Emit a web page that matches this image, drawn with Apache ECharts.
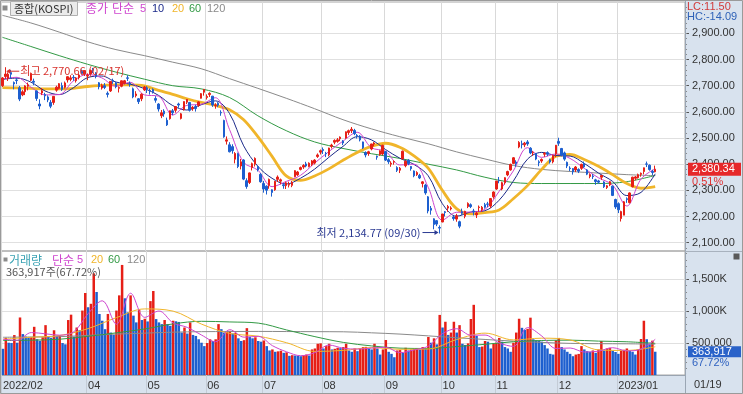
<!DOCTYPE html>
<html><head><meta charset="utf-8">
<script src="https://cdn.jsdelivr.net/npm/echarts@6/dist/echarts.min.js"></script>
<style>html,body{margin:0;padding:0;background:#fff}#c{width:743px;height:394px}</style>
</head><body><div id="c"></div>
<script>
// ---------------- DATA ----------------
const tradingDays = [
  ['2022-02',[16,17,18,21,22,23,24,25,28]],
  ['2022-03',[2,3,4,7,8,10,11,14,15,16,17,18,21,22,23,24,25,28,29,30,31]],
  ['2022-04',[1,4,5,6,7,8,11,12,13,14,15,18,19,20,21,22,25,26,27,28,29]],
  ['2022-05',[2,3,4,6,9,10,11,12,13,16,17,18,19,20,23,24,25,26,27,30,31]],
  ['2022-06',[2,3,7,8,9,10,13,14,15,16,17,20,21,22,23,24,27,28,29,30]],
  ['2022-07',[1,4,5,6,7,8,11,12,13,14,15,18,19,20,21,22,25,26,27,28,29]],
  ['2022-08',[1,2,3,4,5,8,9,10,11,12,16,17,18,19,22,23,24,25,26,29,30,31]],
  ['2022-09',[1,2,5,6,7,8,13,14,15,16,19,20,21,22,23,26,27,28,29,30]],
  ['2022-10',[4,5,6,7,11,12,13,14,17,18,19,20,21,24,25,26,27,28,31]],
  ['2022-11',[1,2,3,4,7,8,9,10,11,14,15,16,17,18,21,22,23,24,25,28,29,30]],
  ['2022-12',[1,2,5,6,7,8,9,12,13,14,15,16,19,20,21,22,23,26,27,28,29]],
  ['2023-01',[2,3,4,5,6,9,10,11,12,13,16,17,18,19]]
];
// empty future slots on the right of the chart
const padDays = [['2023-01',[20,25,26,27,30,31]],['2023-02',[1,2,3,6]]];

const tickDates  = ['2022-02-16','2022-04-01','2022-05-02','2022-06-02','2022-07-01','2022-08-01','2022-09-01','2022-10-04','2022-11-01','2022-12-01','2023-01-02'];
const tickLabels = ['2022/02','04','05','06','07','08','09','10','11','12','2023/01'];
const priceTicks = [2100,2200,2300,2400,2500,2600,2700,2800,2900];
const volTicks = [500,1000,1500];

// [open, close, low, high]
const candles = [
[2700,2729.68,2695,2733],[2735,2744.52,2726,2770.66],[2728,2744.09,2718,2751],[2750,2743.80,2727,2760],[2712,2706.79,2686,2716],
[2722,2719.53,2706,2730],[2692,2648.80,2641,2699],[2665,2676.76,2660,2683],[2677,2699.18,2664,2702],
[2698,2703.52,2682,2712],[2721,2747.08,2718,2750],[2717,2713.43,2702,2727],[2680,2651.31,2642,2682],[2630,2622.40,2610,2648],
[2672,2680.32,2664,2691],[2666,2661.28,2645,2673],[2657,2645.65,2637,2663],[2636,2621.53,2614,2645],[2636,2659.23,2627,2660],
[2683,2694.51,2677,2700],[2690,2707.62,2686,2710],[2700,2686.05,2680,2712],[2694,2710.62,2689,2716],[2722,2734.43,2712,2736],
[2724,2729.98,2717,2740],[2732,2729.66,2719,2741],[2719,2729.56,2712,2733],[2731,2741.07,2724,2746],[2755,2746.74,2743,2762],
[2745,2757.65,2737,2759],
[2737,2739.85,2721,2747],[2745,2757.90,2742,2762],[2762,2759.20,2748,2768],[2749,2735.03,2728,2752],[2711,2695.86,2686,2714],
[2691,2700.39,2685,2708],[2700,2693.10,2687,2710],[2671,2666.76,2655,2678],[2680,2716.49,2676,2717],[2720,2716.71,2707,2727],
[2710,2696.06,2690,2715],[2690,2693.21,2674,2697],[2698,2718.69,2694,2720],[2709,2718.89,2705,2722],[2730,2728.21,2718,2740],
[2710,2704.71,2696,2716],[2688,2657.13,2652,2693],[2662,2668.31,2655,2679],[2650,2639.06,2630,2653],[2650,2667.49,2641,2671],
[2684,2695.05,2680,2699],
[2692,2687.45,2672,2698],[2682,2680.46,2666,2689],[2685,2677.57,2670,2690],[2651,2644.51,2635,2660],[2630,2610.81,2601,2633],
[2585,2596.56,2576,2607],[2603,2592.27,2581,2610],[2568,2550.08,2546,2578],[2574,2604.24,2570,2605],[2604,2596.58,2587,2611],
[2606,2620.44,2597,2622],[2630,2625.98,2616,2635],[2575,2592.34,2571,2596],[2608,2639.29,2605,2640],[2637,2647.38,2630,2649],
[2636,2605.87,2601,2638],[2612,2617.22,2604,2622],[2620,2612.45,2601,2627],[2625,2638.05,2619,2641],[2652,2669.66,2651,2672],
[2675,2685.90,2662,2686],
[2655,2658.99,2647,2667],[2666,2670.65,2657,2675],[2660,2626.15,2619,2661],[2624,2626.34,2612,2633],[2633,2625.44,2618,2637],
[2598,2595.87,2585,2606],[2567,2504.51,2501,2570],[2488,2492.97,2475,2506],[2474,2447.38,2445,2484],[2467,2451.41,2440,2476],
[2419,2440.93,2403,2446],[2440,2391.03,2385,2444],[2393,2408.93,2380,2420],[2416,2342.81,2339,2419],[2337,2314.32,2306,2346],
[2330,2366.60,2324,2368],[2387,2401.92,2376,2406],[2400,2422.09,2391,2426],[2391,2377.99,2372,2394],[2361,2332.64,2329,2366],
[2326,2305.42,2291,2336],[2316,2300.34,2284,2319],[2319,2341.78,2306,2345],[2302,2292.01,2276,2304],[2302,2334.27,2298,2336],
[2342,2350.61,2332,2357],[2335,2340.27,2323,2345],[2321,2317.76,2306,2327],[2318,2328.61,2305,2333],[2320,2322.32,2311,2333],
[2319,2330.98,2312,2336],[2352,2375.25,2350,2377],[2359,2370.12,2355,2374],[2380,2386.85,2376,2391],[2389,2395.21,2382,2400],
[2401,2393.14,2388,2409],[2391,2403.69,2388,2407],[2399,2412.40,2393,2416],[2404,2415.53,2399,2419],[2429,2435.27,2424,2441],
[2446,2451.50,2437,2456],
[2456,2452.25,2439,2464],[2441,2439.62,2427,2447],[2436,2461.45,2430,2463],[2468,2473.11,2460,2478],[2484,2490.80,2476,2495],
[2487,2493.10,2482,2500],[2497,2503.46,2488,2506],[2488,2480.88,2473,2492],[2500,2523.78,2497,2525],[2521,2527.94,2512,2532],
[2528,2533.52,2519,2542],[2529,2516.47,2511,2535],[2510,2508.05,2498,2515],[2507,2492.69,2487,2511],[2485,2462.50,2458,2486],
[2444,2435.34,2426,2449],[2441,2447.45,2432,2451],[2458,2477.26,2453,2478],[2477,2481.03,2468,2485],[2430,2426.89,2417,2433],
[2437,2450.93,2432,2453],[2439,2472.05,2434,2474],
[2448,2415.61,2412,2451],[2417,2409.41,2401,2423],[2400,2403.68,2390,2411],[2408,2410.02,2398,2414],[2387,2376.46,2370,2392],
[2377,2384.28,2366,2389],[2420,2449.54,2419,2452],[2394,2411.42,2388,2414],[2415,2401.83,2396,2419],[2391,2382.78,2375,2393],
[2374,2355.66,2350,2376],[2360,2367.85,2355,2373],[2357,2347.21,2343,2363],[2326,2332.31,2311,2335],[2320,2290.00,2283,2325],
[2275,2220.94,2212,2278],[2231,2223.86,2207,2240],[2191,2169.29,2151,2193],[2184,2170.93,2163,2186],[2158,2155.49,2134.77,2166],
[2179,2209.38,2178,2210],[2218,2215.22,2200,2221],[2232,2237.86,2218,2244],[2229,2232.84,2223,2239],[2198,2192.07,2184,2203],
[2190,2202.47,2180,2210],[2180,2162.87,2155,2184],[2218,2212.55,2206,2230],[2201,2219.71,2193,2222],[2238,2249.95,2232,2254],
[2245,2237.64,2232,2250],[2221,2218.09,2204,2229],[2206,2213.12,2194,2218],[2234,2236.16,2219,2242],[2226,2235.07,2218,2240],
[2245,2235.06,2230,2252],[2248,2246.59,2236,2256],[2240,2268.40,2232,2270],[2275,2293.61,2268,2296],
[2305,2335.22,2302,2336],[2338,2336.82,2327,2351],[2305,2329.17,2300,2333],[2330,2348.22,2322,2350],[2359,2371.79,2354,2375],
[2378,2399.04,2375,2402],[2403,2424.41,2400,2427],[2408,2402.45,2390,2415],[2466,2483.16,2461,2488],[2478,2474.65,2460,2490],
[2474,2480.33,2465,2485],[2485,2477.45,2470,2492],[2461,2442.90,2438,2465],[2443,2444.48,2432,2450],[2440,2419.50,2415,2443],
[2409,2405.27,2392,2415],[2412,2417.98,2405,2422],[2438,2441.33,2428,2446],[2444,2437.86,2431,2449],[2417,2408.27,2402,2421],
[2409,2433.39,2403,2436],[2440,2472.53,2427,2473],
[2487,2479.84,2470,2501],[2460,2434.33,2430,2462],[2443,2419.32,2413,2448],[2407,2393.16,2385,2410],[2385,2382.81,2374,2392],
[2383,2371.08,2360,2385],[2378,2389.04,2370,2393],[2380,2373.36,2366,2384],[2384,2399.25,2378,2402],[2402,2389.58,2386,2410],
[2378,2361.82,2358,2381],[2353,2360.32,2346,2365],[2355,2352.17,2343,2362],[2340,2333.42,2321,2344],[2336,2331.18,2325,2340],
[2350,2356.73,2340,2358],[2332,2313.69,2309,2335],[2311,2317.14,2305,2320],[2321,2332.79,2316,2336],[2316,2280.45,2278,2318],
[2265,2236.40,2229,2268],
[2249,2225.67,2213,2254],[2192,2218.68,2180.67,2222],[2205,2255.98,2205,2259],[2268,2264.65,2252,2273],[2253,2289.97,2250,2292],
[2314,2350.19,2311,2352],[2346,2351.31,2338,2355],[2348,2359.88,2345,2364],[2361,2365.10,2352,2368],[2372,2386.09,2361,2387],
[2401,2399.86,2389,2410],[2396,2379.39,2375,2399],[2373,2368.32,2358,2378],[2371,2380.34,2368.84,2394.43]
];

// volume, thousand shares
const volumes = [
410,580,505,500,625,505,900,640,600,
590,592,754,560,535,590,780,600,580,700,615,618,500,480,860,944,600,743,700,1008,1283,
1060,1114,1590,1299,955,849,717,955,664,627,1008,1246,1722,1200,981,1246,929,823,1018,860,880,
838,1156,1314,875,823,796,860,796,770,849,840,830,664,743,648,823,627,611,559,505,452,
500,559,532,559,796,717,664,680,690,650,660,574,532,545,733,596,574,590,532,521,
540,452,384,400,363,370,380,347,355,300,310,305,300,294,310,320,305,400,415,489,495,
415,452,489,400,410,426,420,437,489,384,363,415,373,415,437,440,415,400,489,415,320,400,
548,363,331,278,384,390,347,426,384,400,410,415,400,437,415,595,505,574,479,940,
743,833,627,664,833,664,780,489,470,495,876,1098,611,437,445,532,521,415,489,
505,580,521,437,415,363,505,664,880,738,706,722,897,559,543,532,521,468,415,331,320,543,
580,437,400,363,331,294,320,330,452,400,373,363,384,347,400,532,384,415,425,380,360,
331,384,395,415,384,363,320,400,563,849,560,480,537.385,363.917
];

const fastStep = 5, slowStep = 10;
const priceMa5 = [2726,2732,2695,2665,2666,2718,2743,2730,2698,2713,2665,2660,2588,2625,2629,2654,2533,2407,2377,2314,2334,2357,2404,2448,2488,2522,2463,2449,2397,2400,2312,2186,2216,2217,2227,2296,2374,2463,2426,2439,2422,2384,2348,2320,2240,2343,2383];
const priceMa10 = [2724,2729,2714,2680,2666,2692,2731,2737,2714,2706,2689,2663,2624,2607,2627,2642,2594,2470,2392,2346,2324,2346,2381,2426,2468,2505,2493,2456,2423,2399,2356,2249,2201,2217,2222,2262,2335,2419,2445,2433,2431,2403,2366,2334,2280,2292,2363];
const priceMa20 = [2693,2692,2690,2688,2688,2690,2697,2701,2703,2703,2699,2682,2667,2650,2636,2625,2608,2570,2505,2430,2355,2338,2355,2382,2415,2445,2468,2480,2465,2432,2385,2300,2230,2210,2215,2225,2268,2318,2380,2430,2437,2418,2392,2360,2326,2308,2314];
const priceMa60 = [2885,2850,2815,2782,2752,2725,2700,2688,2655,2585,2528,2485,2460,2440,2422,2400,2378,2350,2330,2326,2326,2326,2333,2357];
const priceMa120 = [2969,2940,2905,2868,2838,2815,2790,2765,2727,2690,2652,2612,2570,2535,2505,2478,2447,2420,2395,2380,2372,2366,2360,2356];
const volMa5 = [560,543,664,644,623,677,959,1161,794,1279,902,1001,814,745,625,520,709,592,605,459,363,302,350,468,419,405,421,434,349,393,452,648,724,622,625,502,448,742,610,415,422,359,373,427,377,406,558];
const volMa20 = [560,590,618,726,898,1034,999,796,650,607,505,369,385,428,402,407,555,655,549,576,548,393,384,442];
const volMa60 = [540,545,560,605,660,720,800,840,830,812,705,600,510,455,420,415,445,480,520,540,545,530,520,495];
const volMa120 = [590,595,600,620,640,655,670,678,680,682,680,678,676,660,640,612,583,556,530,510,495,490,488,483];

// ---------------- BUILD ----------------
const UP = '#e61f17', DOWN = '#1d5fcf';
const C_MA5 = '#cf45cf', C_MA10 = '#1c2a8a', C_MA20 = '#f0b52a', C_MA60 = '#339a45', C_MA120 = '#8a8a8a';
const KR = '"Noto Sans CJK KR", sans-serif';
const NUM = '"Liberation Sans", Arial, sans-serif';

const dates = [];
tradingDays.forEach(([m, ds]) => ds.forEach(d => dates.push(m + '-' + String(d).padStart(2, '0'))));
const cats = dates.slice();
padDays.forEach(([m, ds]) => ds.forEach(d => cats.push(m + '-' + String(d).padStart(2, '0'))));
const tickIdx = new Set(tickDates.map(d => cats.indexOf(d)));
const isTick = (i) => tickIdx.has(i);

const fmt2 = v => v.toLocaleString('en-US', {minimumFractionDigits: 2, maximumFractionDigits: 2});
const pts = (arr, step) => arr.map((v, k) => [k * step, v]);

const minorPrice = []; for (let v = 2080; v <= 3000; v += 20) minorPrice.push(v);
const minorVol = []; for (let v = 100; v <= 1900; v += 100) minorVol.push(v);

const volData = volumes.map((v, i) => ({value: v, itemStyle: {color: (i > 0 && v > volumes[i - 1]) ? UP : DOWN}}));

function maLine(data, color, width, xi, yi) {
  return {type: 'line', xAxisIndex: xi, yAxisIndex: yi, data: data, showSymbol: false, symbol: 'none',
    smooth: 0.35, silent: true, z: 4, lineStyle: {color: color, width: width}};
}

const chart = echarts.init(document.getElementById('c'), null, {renderer: 'canvas'});
const gridLeft = 1, gridRight = 58;
const option = {
  animation: false,
  backgroundColor: '#ffffff',
  grid: [
    {left: gridLeft, right: gridRight, top: 2, height: 249, show: true, borderColor: '#a8a8a8', borderWidth: 1, backgroundColor: 'transparent'},
    {left: gridLeft, right: gridRight, top: 251, height: 124, show: true, borderColor: '#a8a8a8', borderWidth: 1, backgroundColor: 'transparent'}
  ],
  xAxis: [
    {type: 'category', gridIndex: 0, data: cats, boundaryGap: true,
      axisLine: {show: false}, axisTick: {show: false}, axisLabel: {show: false},
      splitLine: {show: true, interval: isTick, lineStyle: {color: '#d9d9d9', width: 1}}},
    {type: 'category', gridIndex: 1, data: cats, boundaryGap: true,
      axisLine: {show: true, lineStyle: {color: '#9aa4b0'}},
      axisTick: {show: true, interval: isTick, length: 19, lineStyle: {color: '#c4ccd6'}},
      axisLabel: {show: true, interval: isTick, align: 'left', margin: 5, fontSize: 11, color: '#333', fontFamily: NUM,
        formatter: (v) => { const k = tickDates.indexOf(v); return k >= 0 ? tickLabels[k] : ''; }},
      splitLine: {show: true, interval: isTick, lineStyle: {color: '#d9d9d9', width: 1}}}
  ],
  yAxis: [
    {type: 'value', gridIndex: 0, position: 'right', min: 2068, max: 3020, scale: true,
      axisLine: {show: false},
      axisTick: {show: true, customValues: priceTicks, length: 4, lineStyle: {color: '#555'}},
      axisLabel: {show: true, customValues: priceTicks, margin: 7, fontSize: 11, color: '#333', fontFamily: NUM, formatter: v => fmt2(v)},
      splitLine: {show: true, lineStyle: {color: '#e0e0e0'}}},
    {type: 'value', gridIndex: 1, position: 'right', min: 0, max: 1940,
      axisLine: {show: false},
      axisTick: {show: true, customValues: volTicks, length: 4, lineStyle: {color: '#555'}},
      axisLabel: {show: true, customValues: volTicks, margin: 7, fontSize: 11, color: '#333', fontFamily: NUM,
        formatter: v => { const raw = v * 1000; return raw >= 1e6 ? (v).toLocaleString('en-US') + 'K' : raw.toLocaleString('en-US'); }},
      splitLine: {show: true, lineStyle: {color: '#e0e0e0'}}},
    {type: 'value', gridIndex: 0, position: 'right', min: 2068, max: 3020,
      axisLine: {show: false}, axisLabel: {show: false}, splitLine: {show: false},
      axisTick: {show: true, customValues: minorPrice, length: 2, lineStyle: {color: '#8a8a8a'}}},
    {type: 'value', gridIndex: 1, position: 'right', min: 0, max: 1940,
      axisLine: {show: false}, axisLabel: {show: false}, splitLine: {show: false},
      axisTick: {show: true, customValues: minorVol, length: 2, lineStyle: {color: '#8a8a8a'}}}
  ],
  series: [
    maLine(pts(priceMa120, slowStep), C_MA120, 1, 0, 0),
    maLine(pts(priceMa60, slowStep), C_MA60, 1, 0, 0),
    maLine(pts(priceMa20, fastStep), C_MA20, 2.8, 0, 0),
    {type: 'candlestick', xAxisIndex: 0, yAxisIndex: 0, data: candles, barWidth: 2, z: 5, silent: true,
      itemStyle: {color: UP, color0: DOWN, borderColor: UP, borderColor0: DOWN, borderWidth: 1}},
    maLine(pts(priceMa10, fastStep), C_MA10, 1, 0, 0),
    maLine(pts(priceMa5, fastStep), C_MA5, 1, 0, 0),
    {type: 'bar', xAxisIndex: 1, yAxisIndex: 1, data: volData, barWidth: '88%', z: 2, silent: true},
    maLine(pts(volMa120, slowStep), C_MA120, 1, 1, 1),
    maLine(pts(volMa60, slowStep), C_MA60, 1, 1, 1),
    maLine(pts(volMa20, slowStep), C_MA20, 1, 1, 1),
    maLine(pts(volMa5, fastStep), C_MA5, 1, 1, 1)
  ]
};
chart.setOption(option);

// ---------------- ANNOTATIONS ----------------
const n = candles.length;
let hiI = 0, loI = 0;
candles.forEach((c, i) => { if (c[3] > candles[hiI][3]) hiI = i; if (c[2] < candles[loI][2]) loI = i; });
const last = candles[n - 1], prev = candles[n - 2];
const pctTxt = ((last[1] - prev[1]) / prev[1] * 100).toFixed(2) + '%';
const lcTxt = 'LC:' + (last[1] - last[2]).toFixed(2);
const hcTxt = 'HC:' + (last[1] - last[3]).toFixed(2);
const vLast = volumes[n - 1], vPrev = volumes[n - 2];
const vTxt = Math.round(vLast * 1000).toLocaleString('en-US');
const vPct = (vLast / vPrev * 100).toFixed(2) + '%';
const mmdd = d => d.slice(5, 7) + '/' + d.slice(8, 10);

const pH = chart.convertToPixel({xAxisIndex: 0, yAxisIndex: 0}, [hiI, candles[hiI][3]]);
const pL = chart.convertToPixel({xAxisIndex: 0, yAxisIndex: 0}, [loI, candles[loI][2]]);
const pC = chart.convertToPixel({xAxisIndex: 0, yAxisIndex: 0}, [n - 1, last[1]]);
const pV = chart.convertToPixel({xAxisIndex: 1, yAxisIndex: 1}, [n - 1, vLast]);

const T = (x, y, text, fill, font, align) => ({type: 'text', x: x, y: y, z: 61,
  style: {text: text, fill: fill, font: font, textVerticalAlign: 'middle', textAlign: align || 'left'}});
const fK = '11px ' + KR, fK12 = '12px ' + KR, fN = '11px ' + NUM;
const redA = '#d8322d', blueA = '#2b3a92';
const yA = pH[1] + 4, yB = pL[1] - 1;

const g = [
  {type: 'rect', z: -10, shape: {x: 685, y: 0, width: 58, height: 394}, style: {fill: '#d8e2ee'}},
  {type: 'rect', z: -10, shape: {x: 0, y: 375, width: 685, height: 19}, style: {fill: '#d8e2ee'}},
  {type: 'line', z: 50, shape: {x1: 685.5, y1: 0, x2: 685.5, y2: 394}, style: {stroke: '#9aa6b4', lineWidth: 1}},
  {type: 'line', z: 50, shape: {x1: 685, y1: 251.5, x2: 743, y2: 251.5}, style: {stroke: '#a8b2be', lineWidth: 1}},
  {type: 'rect', z: 50, shape: {x: 0.5, y: 0.5, width: 742, height: 393}, style: {fill: 'none', stroke: '#9a9a9a', lineWidth: 1}},
  // price legend
  {type: 'rect', z: 60, shape: {x: 2.5, y: 5.5, width: 5, height: 5}, style: {fill: '#8a8a8a'}},
  {type: 'rect', z: 60, shape: {x: 10.5, y: 1.5, width: 67, height: 14}, style: {fill: '#ebebeb', stroke: '#b0b0b0', lineWidth: 1}},
  T(14, 8.5, '종합(KOSPI)', '#333', fK),
  T(86, 8.5, '종가', C_MA5, fK12),
  T(112, 8.5, '단순', C_MA5, fK12),
  T(140, 8.5, '5', C_MA5, fN),
  T(152, 8.5, '10', C_MA10, fN),
  T(172, 8.5, '20', C_MA20, fN),
  T(189, 8.5, '60', C_MA60, fN),
  T(207, 8.5, '120', C_MA120, fN),
  // volume legend
  {type: 'rect', z: 60, shape: {x: 3.5, y: 257.5, width: 4, height: 4}, style: {fill: '#8a8a8a'}},
  T(9, 260, '거래량', '#3aa2b3', fK12),
  T(52, 260, '단순', C_MA5, fK12),
  T(77, 260, '5', C_MA5, fN),
  T(91, 260, '20', C_MA20, fN),
  T(108, 260, '60', C_MA60, fN),
  T(127, 260, '120', C_MA120, fN),
  T(6, 272, vTxt + '주(' + vPct + ')', '#555', fK),
  // right panel texts
  T(687, 7, lcTxt, '#d23a3a', fN),
  T(687, 17, hcTxt, '#2f62b8', fN),
  {type: 'rect', z: 60, shape: {x: 688, y: pC[1] - 6.5, width: 53, height: 13}, style: {fill: '#e6282a'}},
  T(692, pC[1], fmt2(last[1]), '#ffffff', fN),
  T(692, pC[1] + 12.5, pctTxt, '#e03030', fN),
  {type: 'rect', z: 60, shape: {x: 688, y: pV[1] - 5.5, width: 53, height: 11}, style: {fill: '#2a62c9'}},
  T(692, pV[1], vTxt, '#ffffff', fN),
  T(692, pV[1] + 11, vPct, '#2f62c0', fN),
  T(694, 385, mmdd(dates[n - 1]), '#333', fN),
  {type: 'rect', z: 60, shape: {x: 733.5, y: 253.5, width: 6, height: 6}, style: {fill: '#5a5a5a'}},
  // high annotation
  {type: 'line', z: 60, shape: {x1: pH[0] + 4, y1: yA, x2: pH[0] + 14, y2: yA}, style: {stroke: redA, lineWidth: 1}},
  {type: 'polygon', z: 60, shape: {points: [[pH[0] + 1, yA], [pH[0] + 5, yA - 2.5], [pH[0] + 5, yA + 2.5]]}, style: {fill: redA}},
  T(pH[0] + 15, yA, '최고 ' + fmt2(candles[hiI][3]) + ' (' + mmdd(dates[hiI]) + ')', redA, fK),
  // low annotation
  {type: 'line', z: 60, shape: {x1: pL[0] - 17, y1: yB, x2: pL[0] - 4, y2: yB}, style: {stroke: blueA, lineWidth: 1}},
  {type: 'polygon', z: 60, shape: {points: [[pL[0] - 1, yB], [pL[0] - 5, yB - 2.5], [pL[0] - 5, yB + 2.5]]}, style: {fill: blueA}},
  T(pL[0] - 19, yB, '최저 ' + fmt2(candles[loI][2]) + ' (' + mmdd(dates[loI]) + ')', blueA, fK, 'right')
];
chart.setOption({graphic: g});
</script>
</body></html>
